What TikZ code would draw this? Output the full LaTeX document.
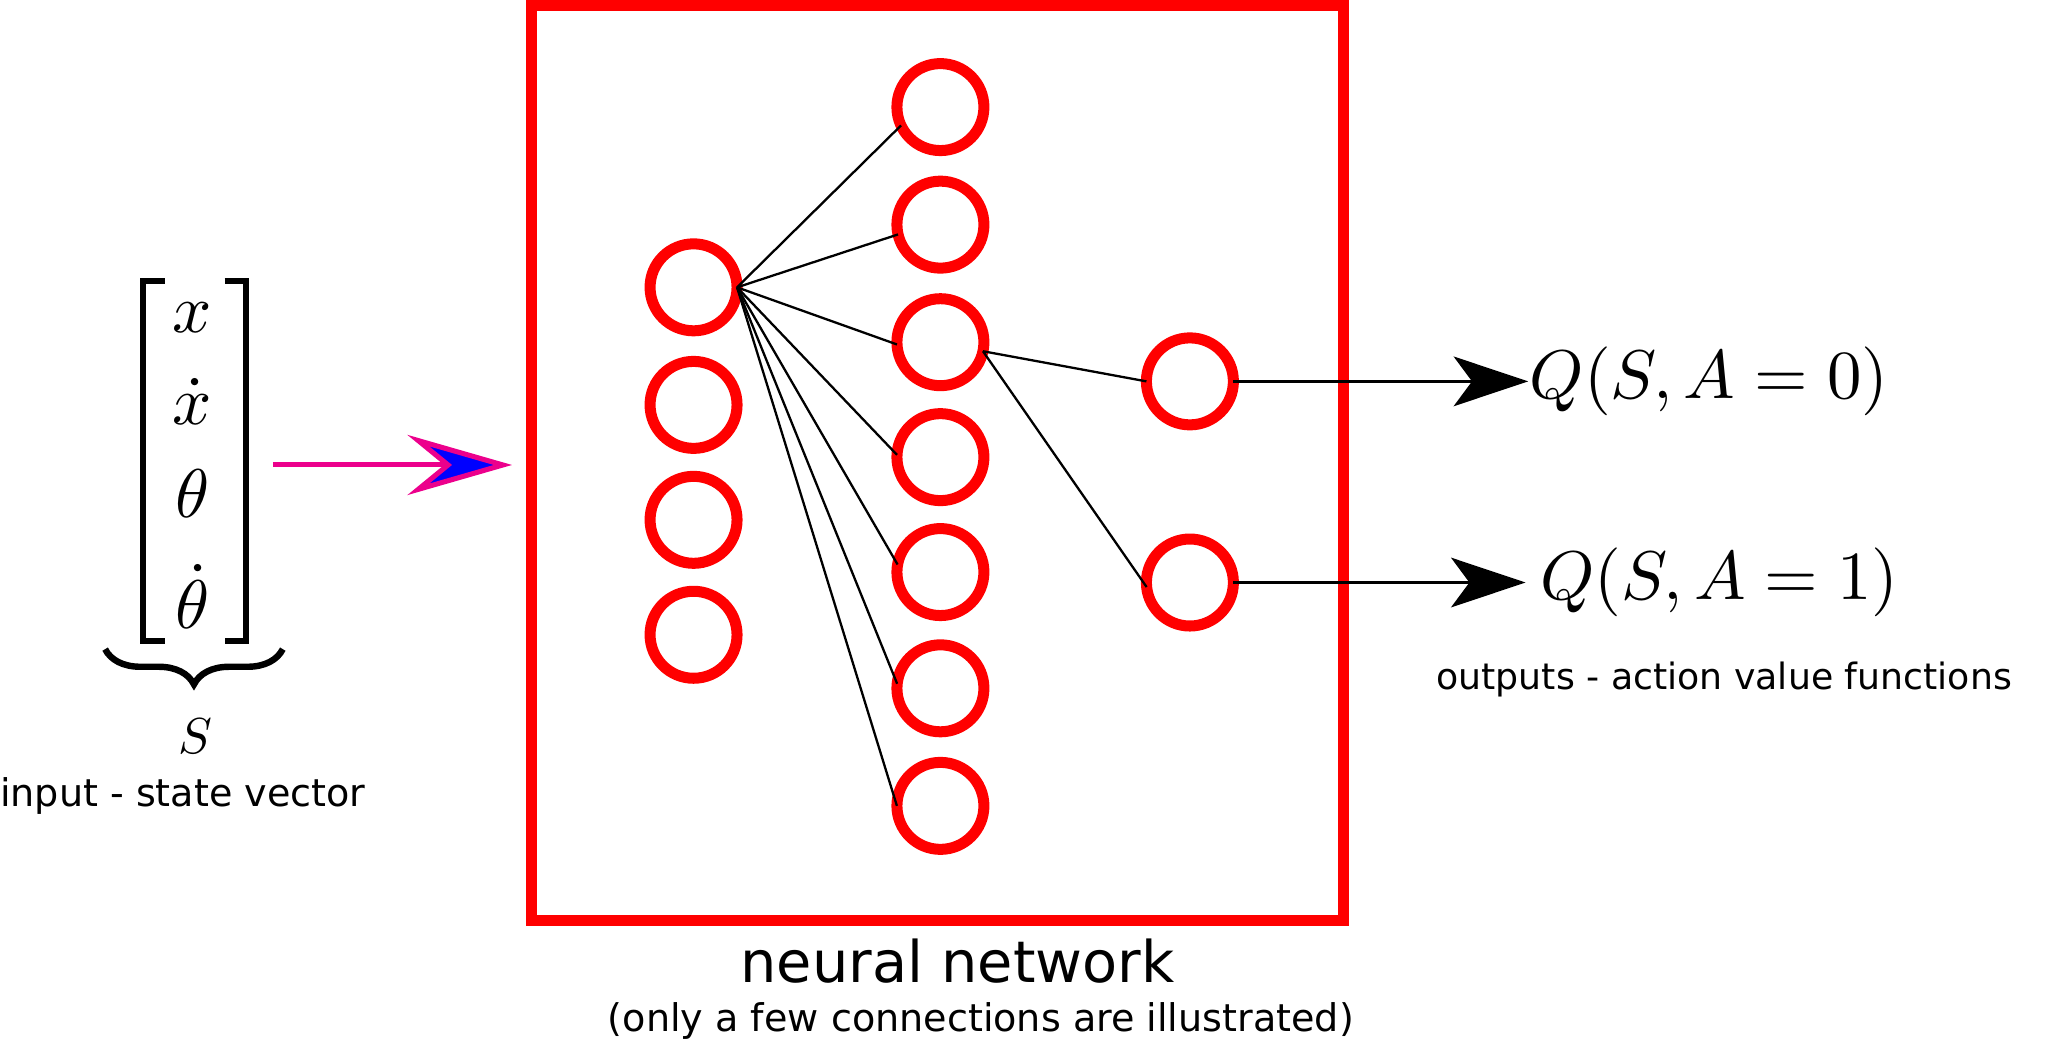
\documentclass[tikz,border=0pt]{standalone}
\usepackage[no-math]{fontspec}
\usepackage{amsmath}
\usetikzlibrary{arrows.meta,calc,positioning,decorations.pathreplacing}
\newfontfamily\labelfont{DejaVu Sans}

\begin{document}
\begin{tikzpicture}[decoration={brace,amplitude=0.27cm,mirror},
	neuron/.style={circle,draw=red,line width=2.4pt,minimum size=0.666cm,inner sep=0pt,outer sep=0pt},
	link/.style={line width=0.5pt},
	outarrow/.style={line width=0.75pt,-{Stealth[length=0.57cm,width=0.38cm,inset=0.14cm]}},
	mathlabel/.style={inner sep=0pt,scale=1.5},
	textlabel/.style={inner sep=0pt,font=\labelfont\fontsize{8.3}{10}\selectfont}]
		\useasboundingbox (0,0) rectangle (15.68,-7.98);
		
		% the network
		\node[draw=red,line width=2.4pt,minimum width=6.217cm,minimum height=7.006cm,inner sep=0pt] (net) at (7.1785,-3.545) {};
		
		\foreach \y [count=\i] in {2.20,3.10,3.98,4.86}
			\node[neuron] (i\i) at (5.31,-\y) {};
		\foreach \y [count=\i] in {0.82,1.72,2.62,3.50,4.38,5.27,6.17}
			\node[neuron] (h\i) at (7.20,-\y) {};
		\node[neuron] (o1) at (9.11,-2.92) {};
		\node[neuron] (o2) at (9.11,-4.46) {};
		
		\foreach \j/\a in {1/205,2/193,3/183,4/177,5/170,6/174,7/180}
			\draw[link] (i1.east) -- (h\j.\a);
		\draw[link] (h3.348) -- (o1.180);
		\draw[link] (h3.348) -- (o2.186);
		
		\node[font=\labelfont\fontsize{12.5}{15}\selectfont,inner sep=0pt,anchor=base] (nn) at (7.33,-7.52) {neural network};
		\node[textlabel,anchor=base] (few) at (7.51,-7.90) {(only a few connections are illustrated)};
		
		% outputs
		\node[mathlabel,anchor=west] (q0) at (11.70,-2.92) {$Q(S,A=0)$};
		\node[mathlabel,anchor=west] (q1) at (11.78,-4.46) {$Q(S,A=1)$};
		\draw[outarrow] (o1.east) -- (q0.west);
		\draw[outarrow] (o2.east) -- ([xshift=-0.1cm]q1.west);
		\node[textlabel,font=\labelfont\fontsize{7.9}{10}\selectfont,anchor=base] (outs) at (13.20,-5.28) {outputs - action value functions};
		
		% the state vector
		\node[mathlabel,anchor=base] (vx) at (1.475,-2.545) {$x$};
		\node[mathlabel,anchor=base] (vxd) at (1.475,-3.25) {$\dot{x}$};
		\node[mathlabel,anchor=base] (vth) at (1.475,-3.96) {$\theta$};
		\node[mathlabel,anchor=base] (vthd) at (1.475,-4.81) {$\dot{\theta}$};
		\draw[line width=1.3pt] (1.26,-2.15) -- (1.095,-2.15) -- (1.095,-4.91) -- (1.26,-4.91);
		\draw[line width=1.3pt] (1.72,-2.15) -- (1.885,-2.15) -- (1.885,-4.91) -- (1.72,-4.91);
		\draw[decorate,line width=1.4pt] (0.805,-4.97) -- (2.165,-4.97);
		\node[inner sep=0pt,scale=1.1,anchor=base] (vs) at (1.50,-5.77) {$S$};
		\node[textlabel,anchor=base] (ins) at (1.40,-6.177) {input - state vector};
		
		\coordinate (vin) at (2.09,-3.56);
		\coordinate (vout) at (3.92,-3.56);
		\draw[magenta,line width=1.1pt,-{Stealth[length=0.8cm,width=0.46cm,inset=0.28cm,fill=blue]}] (vin) -- (vout);
\end{tikzpicture}
\end{document}
